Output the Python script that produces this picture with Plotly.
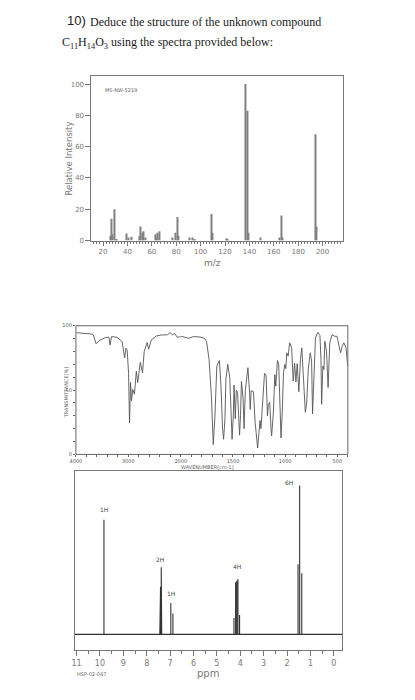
import plotly.graph_objects as go

W, H = 415, 700


def px(x):
    return x / W


def py(y):
    return 1 - y / H


# ── Mass spectrum ────────────────────────────────────────────────────────────
ms_mz = [26, 27, 28, 29, 31, 39, 41, 43, 50, 51, 52, 53, 55, 63, 64, 65, 66,
         77, 79, 81, 82, 91, 93, 95, 109, 110, 121, 122, 137, 138, 139, 149,
         165, 166, 167, 194, 195]
ms_int = [3, 14, 4, 20, 1, 4.5, 2, 2.5, 3, 9, 5, 6, 2, 4, 2, 5, 6,
          2, 5, 15, 3, 2, 2, 1, 17, 5, 1.5, 1, 100, 83, 5, 2,
          2, 16, 2, 68, 9]
ms_xticks = [20, 40, 60, 80, 100, 120, 140, 160, 180, 200]

# ── IR spectrum ──────────────────────────────────────────────────────────────
ir_wn = [3988, 3710, 3666, 3616, 3554, 3430, 3368, 3350, 3320, 3214, 3120, 3088,
         3070, 3046, 3022, 2996, 2978, 2958, 2940, 2916, 2884, 2848, 2822, 2772,
         2730, 2698, 2642, 2612, 2562, 2470, 2376, 2252, 2204, 2162, 2116, 2068,
         2000, 1987, 1925, 1878, 1816, 1779, 1754, 1729, 1707, 1689, 1674, 1655,
         1630, 1615, 1600, 1590, 1577, 1568, 1550, 1531, 1516, 1509, 1497, 1490,
         1478, 1468, 1456, 1437, 1428, 1419, 1403, 1394, 1382, 1357, 1341, 1335,
         1326, 1304, 1288, 1273, 1264, 1251, 1241, 1232, 1217, 1198, 1183, 1170,
         1161, 1148, 1136, 1130, 1114, 1099, 1090, 1074, 1062, 1050, 1040, 1028,
         1016, 1003, 994, 985, 972, 957, 938, 923, 910, 897, 885, 869, 854, 841,
         829, 807, 794, 779, 760, 747, 738, 726, 710, 688, 667, 657, 651, 639,
         629, 620, 604, 589, 573, 551, 526, 504, 485, 470, 454, 438, 417, 401]
ir_t = [94.6, 93.6, 92.8, 86, 88.5, 91, 91, 85, 91.6, 91, 87.7, 81,
        75, 82.6, 81, 63, 24.5, 56, 41.7, 50.6, 46.8, 64.7, 55.8, 71.6,
        63.4, 80, 87, 81.8, 89, 92, 92.8, 93, 94.6, 93, 94, 91,
        91.5, 91.6, 90.3, 91.6, 91.2, 90.5, 88, 73.8, 45.6, 7.7, 27.7, 68.7,
        73, 53, 20, 11.8, 27.7, 58.5, 70, 59.7, 27.7, 11.8, 30, 53.8,
        27.7, 50, 48, 15, 30, 56.7, 43, 20, 49.5, 67.4, 48, 35,
        49.5, 48.7, 25, 9.7, 5, 17.4, 26.4, 20, 40.5, 63, 61.5, 30,
        39, 40.5, 20, 14.4, 31.5, 62, 53, 73, 70, 32.8, 12.8, 32.8,
        63.6, 70, 66.7, 79, 76.4, 86.7, 82.8, 57, 71, 56.4, 70.5, 48.7, 73.8, 82.8,
        63.6, 32.8, 40, 66, 79, 72.6, 31.5, 61, 90.5, 94.9, 92.3, 73.8, 39, 68.7,
        66, 88, 80, 52, 86.7, 93, 91.8, 91.8, 85.4, 79, 84, 86.7, 82.8, 68.7]

# ── 1H NMR ───────────────────────────────────────────────────────────────────
nmr_ppm = [9.83, 7.44, 7.41, 7.38, 7.36, 6.97, 6.88,
           4.27, 4.20, 4.15, 4.10, 4.03, 1.53, 1.46, 1.37]
nmr_h = [77, 21, 32, 45, 18, 21, 14,
         11, 35, 36, 37, 13, 47, 100, 41]
nmr_labels = ["1H", "2H", "1H", "4H", "6H"]

LINE = "#777"
TICKFONT = {"family": "DejaVu Sans", "color": "#777"}

fig = go.Figure()

# mass spectrum bars
fig.add_trace(go.Bar(x=ms_mz, y=ms_int, width=0.8, marker={"color": "#808080", "line": {"width": 0}},
                     xaxis="x", yaxis="y"))

# IR split at 2000 cm-1 (two scales)
hi = [(w, t) for w, t in zip(ir_wn, ir_t) if w >= 2000]
lo = [(w, t) for w, t in zip(ir_wn, ir_t) if w <= 2000]
fig.add_trace(go.Scatter(x=[p[0] for p in hi], y=[p[1] for p in hi], mode="lines",
                         line={"color": "#555", "width": 0.9}, xaxis="x2", yaxis="y2"))
fig.add_trace(go.Scatter(x=[p[0] for p in lo], y=[p[1] for p in lo], mode="lines",
                         line={"color": "#555", "width": 0.9}, xaxis="x3", yaxis="y2"))

# NMR stick spectrum
NMR_RANGE = [11.07, -0.35]
sx, sy = [NMR_RANGE[0]], [0]
for p, h in sorted(zip(nmr_ppm, nmr_h), reverse=True):
    sx += [p, p, p]
    sy += [0, h, 0]
sx.append(NMR_RANGE[1])
sy.append(0)
fig.add_trace(go.Scatter(x=sx, y=sy, mode="lines", line={"color": "#333", "width": 1.1},
                         xaxis="x4", yaxis="y4"))

tiny = {**TICKFONT, "size": 5, "color": "#555"}
fig.update_layout(
    width=W, height=H,
    paper_bgcolor="white", plot_bgcolor="white",
    showlegend=False,
    margin={"l": 0, "r": 0, "t": 0, "b": 0},
    xaxis={"domain": [px(88), px(347)], "anchor": "y", "range": [10.5, 216.7],
           "tickvals": ms_xticks, "ticks": "outside", "ticklen": 4, "tickcolor": LINE,
           "minor": {"dtick": 2.5, "tick0": 0, "ticks": "outside", "ticklen": 2, "tickcolor": LINE},
           "showline": True, "mirror": True, "linecolor": LINE, "linewidth": 1,
           "showgrid": False, "zeroline": False, "tickfont": {**TICKFONT, "size": 7}},
    yaxis={"domain": [py(240), py(74)], "anchor": "x", "range": [0, 105],
           "dtick": 20, "ticks": "outside", "ticklen": 5, "tickcolor": LINE,
           "showline": True, "mirror": True, "linecolor": LINE, "linewidth": 1,
           "showgrid": False, "zeroline": False, "tickfont": {**TICKFONT, "size": 7}},
    xaxis2={"domain": [px(72), px(180)], "anchor": "y2", "range": [4000, 2000],
            "tickvals": [4000, 3000, 2000], "ticks": "outside", "ticklen": 2, "tickcolor": "#666",
            "minor": {"dtick": 200, "tick0": 0, "ticks": "outside", "ticklen": 1.5, "tickcolor": "#666"},
            "showline": False, "showgrid": False, "zeroline": False, "tickfont": tiny},
    xaxis3={"domain": [px(180), px(352)], "anchor": "y2", "range": [2000, 400],
            "tickvals": [1500, 1000, 500], "ticks": "outside", "ticklen": 2, "tickcolor": "#666",
            "minor": {"dtick": 100, "tick0": 0, "ticks": "outside", "ticklen": 1.5, "tickcolor": "#666"},
            "showline": False, "showgrid": False, "zeroline": False, "tickfont": tiny},
    yaxis2={"domain": [py(456), py(326)], "anchor": "x2", "range": [0, 100],
            "tickvals": [0, 50, 100], "ticks": "outside", "ticklen": 2, "tickcolor": "#666",
            "minor": {"dtick": 10, "ticks": "outside", "ticklen": 1.5, "tickcolor": "#666"},
            "showline": False, "showgrid": False, "zeroline": False, "tickfont": tiny},
    xaxis4={"domain": [px(71), px(346)], "anchor": "y4", "range": NMR_RANGE,
            "dtick": 1, "tick0": 0, "ticks": "outside", "ticklen": 5, "tickcolor": LINE,
            "minor": {"dtick": 0.5, "tick0": 0, "ticks": "outside", "ticklen": 3, "tickcolor": LINE},
            "showline": True, "mirror": True, "linecolor": LINE, "linewidth": 1,
            "showgrid": False, "zeroline": False, "tickfont": {**TICKFONT, "size": 8}},
    yaxis4={"domain": [py(654), py(473)], "anchor": "x4", "range": [-10.8, 109.5],
            "showticklabels": False, "ticks": "",
            "showline": True, "mirror": True, "linecolor": LINE, "linewidth": 1,
            "showgrid": False, "zeroline": False},
)

# IR frame
fig.add_shape(type="rect", xref="paper", yref="paper",
              x0=px(72), x1=px(352), y0=py(456), y1=py(326),
              line={"color": "#666", "width": 1})

serif = {"family": "Times New Roman, Liberation Serif, serif", "color": "#222"}
small = {"family": "DejaVu Sans", "color": "#666"}
notes = [
    # title
    dict(x=px(61), y=py(18), text="10)", font={"family": "Liberation Sans, Arial", "size": 13, "color": "#222"}),
    dict(x=px(84), y=py(19), text="Deduce the structure of the unknown compound", font={**serif, "size": 12}),
    dict(x=px(56), y=py(40), text="C<sub>11</sub>H<sub>14</sub>O<sub>3</sub> using the spectra provided below:",
         font={**serif, "size": 12}),
    # mass spec
    dict(x=px(100), y=py(88), text="MS-NW-5219", font={**small, "size": 5}),
    dict(x=px(213), y=py(263), text="m/z", font={**small, "size": 9, "color": "#777"}, xanchor="center"),
    dict(x=px(65), y=py(157), text="Relative Intensity", textangle=-90,
         font={**small, "size": 8.5, "color": "#777"}, xanchor="center"),
    # IR
    dict(x=px(62), y=py(393), text="TRANSMITTANCE[%]", textangle=-90,
         font={**small, "size": 5}, xanchor="center"),
    dict(x=px(207), y=py(469), text="WAVENUMBER[cm-1]", font={**small, "size": 5}, xanchor="center"),
    # NMR
    dict(x=px(208), y=py(677), text="ppm", font={**small, "size": 10, "color": "#777"}, xanchor="center"),
    dict(x=px(71), y=py(678), text="HSP-02-047", font={**small, "size": 5}),
]
for n in notes:
    fig.add_annotation(xref="paper", yref="paper", showarrow=False,
                       xanchor=n.pop("xanchor", "left"), yanchor="middle", **n)

# NMR integration labels
label_pos = [(9.83, 84), (7.42, 50.5), (6.95, 27.7), (4.15, 45.5), (1.90, 102)]
for (lx, ly), t in zip(label_pos, nmr_labels):
    fig.add_annotation(x=lx, y=ly, xref="x4", yref="y4", text=t, showarrow=False,
                       font={**small, "size": 6, "color": "#444"})

# drop the default page margin so the figure sits at the window's corner
fig.write_html("out.html", config={"displayModeBar": False},
               post_script="document.body.style.margin='0';")
